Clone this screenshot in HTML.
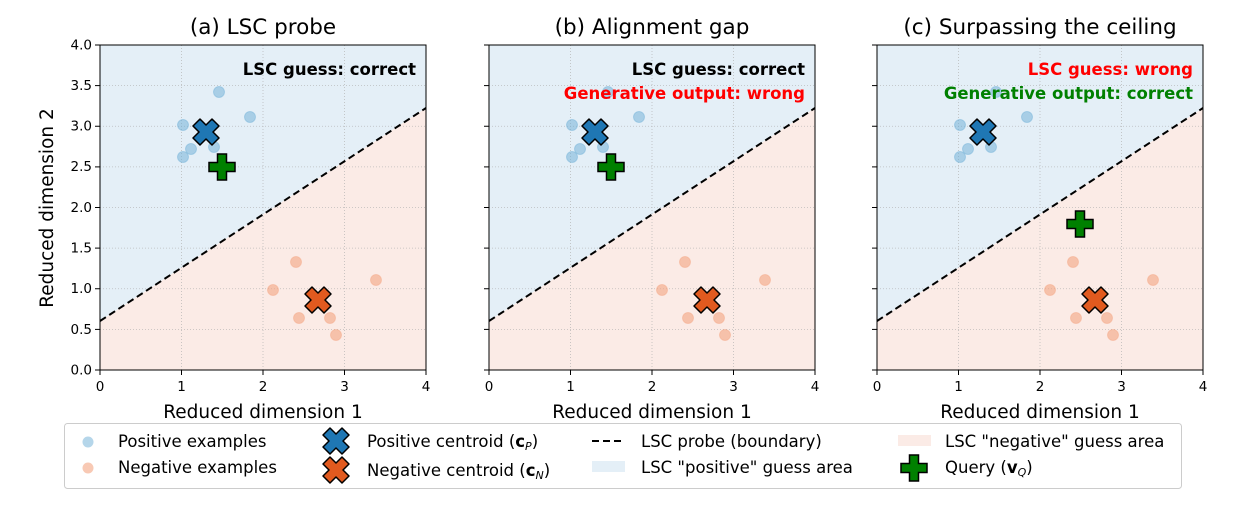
<!DOCTYPE html>
<html><head><meta charset="utf-8"><style>body{margin:0;background:#fff}svg{display:block;font-family:"DejaVu Sans","Liberation Sans",sans-serif}</style></head><body>
<svg width="1246" height="512" viewBox="0 0 1246 512" xmlns="http://www.w3.org/2000/svg">
<defs>
<path id="xm" d="M-6,-13 L0,-7 L6,-13 L13,-6 L7,0 L13,6 L6,13 L0,7 L-6,13 L-13,6 L-7,0 L-13,-6 Z" stroke="#000" stroke-width="1.5" stroke-linejoin="round"/>
<path id="pm" d="M-4.5,-13 H4.5 V-4.5 H13 V4.5 H4.5 V13 H-4.5 V4.5 H-13 V-4.5 H-4.5 Z" fill="#008000" stroke="#000" stroke-width="1.5"/>
<g id="panel">
<polygon points="0,45 326,45 326,108 0,321" fill="#e4eff7"/>
<polygon points="0,321 326,108 326,370 0,370" fill="#fbebe6"/>
<g stroke="#b0b0b0" stroke-width="0.8" stroke-dasharray="1,2" opacity="0.8">
<line x1="81.5" y1="45" x2="81.5" y2="370"/><line x1="163" y1="45" x2="163" y2="370"/><line x1="244.5" y1="45" x2="244.5" y2="370"/>
<line x1="0" y1="329.4" x2="326" y2="329.4"/><line x1="0" y1="288.75" x2="326" y2="288.75"/><line x1="0" y1="248.1" x2="326" y2="248.1"/><line x1="0" y1="207.5" x2="326" y2="207.5"/><line x1="0" y1="166.9" x2="326" y2="166.9"/><line x1="0" y1="126.25" x2="326" y2="126.25"/><line x1="0" y1="85.6" x2="326" y2="85.6"/>
</g>
<line x1="0" y1="321" x2="326" y2="108" stroke="#000" stroke-width="2" stroke-dasharray="7,4"/>
<g fill="#6baed6" fill-opacity="0.5" stroke="#6baed6" stroke-opacity="0.4">
<circle cx="83" cy="125" r="5.5"/><circle cx="119" cy="92" r="5.5"/><circle cx="150" cy="117" r="5.5"/><circle cx="91" cy="149" r="5.5"/><circle cx="83" cy="157" r="5.5"/><circle cx="114" cy="147" r="5.5"/>
</g>
<g fill="#f4a582" fill-opacity="0.6" stroke="#f4a582" stroke-opacity="0.4">
<circle cx="196" cy="262" r="5.5"/><circle cx="173" cy="290" r="5.5"/><circle cx="276" cy="280" r="5.5"/><circle cx="199" cy="318" r="5.5"/><circle cx="230" cy="318" r="5.5"/><circle cx="236" cy="335" r="5.5"/>
</g>
<use href="#xm" x="106" y="132" fill="#1f77b4"/>
<use href="#xm" x="218" y="300" fill="#e15a1f"/>
<rect x="0" y="45" width="326" height="325" fill="none" stroke="#000" stroke-width="1"/>
<g stroke="#000"><line x1="0" y1="370" x2="0" y2="375"/><line x1="81.5" y1="370" x2="81.5" y2="375"/><line x1="163" y1="370" x2="163" y2="375"/><line x1="244.5" y1="370" x2="244.5" y2="375"/><line x1="326" y1="370" x2="326" y2="375"/>
<line x1="0" y1="370" x2="-5" y2="370"/><line x1="0" y1="329.4" x2="-5" y2="329.4"/><line x1="0" y1="288.75" x2="-5" y2="288.75"/><line x1="0" y1="248.1" x2="-5" y2="248.1"/><line x1="0" y1="207.5" x2="-5" y2="207.5"/><line x1="0" y1="166.9" x2="-5" y2="166.9"/><line x1="0" y1="126.25" x2="-5" y2="126.25"/><line x1="0" y1="85.6" x2="-5" y2="85.6"/><line x1="0" y1="45" x2="-5" y2="45"/></g>
<g font-size="13.5" text-anchor="middle"><text x="0" y="391">0</text><text x="81.5" y="391">1</text><text x="163" y="391">2</text><text x="244.5" y="391">3</text><text x="326" y="391">4</text></g>
<text x="163" y="418" font-size="18.5" text-anchor="middle">Reduced dimension 1</text>
</g>
</defs>
<g transform="translate(100,0)"><use href="#panel"/><use href="#pm" x="122" y="167"/>
<g font-size="13.5" text-anchor="end"><text x="-8" y="374.5">0.0</text><text x="-8" y="334">0.5</text><text x="-8" y="293">1.0</text><text x="-8" y="252.5">1.5</text><text x="-8" y="212">2.0</text><text x="-8" y="171">2.5</text><text x="-8" y="130.5">3.0</text><text x="-8" y="90">3.5</text><text x="-8" y="49.5">4.0</text></g>
<text x="316" y="75" font-size="16.5" font-weight="bold" text-anchor="end">LSC guess: correct</text>
<text x="163" y="34" font-size="21.5" text-anchor="middle">(a) LSC probe</text></g>
<text transform="translate(53,208) rotate(-90)" font-size="18.5" text-anchor="middle">Reduced dimension 2</text>
<g transform="translate(489,0)"><use href="#panel"/><use href="#pm" x="122" y="167"/>
<text x="316" y="75" font-size="16.5" font-weight="bold" text-anchor="end">LSC guess: correct</text>
<text x="316" y="99" font-size="16.5" font-weight="bold" text-anchor="end" fill="#ff0000">Generative output: wrong</text>
<text x="163" y="34" font-size="21.5" text-anchor="middle">(b) Alignment gap</text></g>
<g transform="translate(877,0)"><use href="#panel"/><use href="#pm" x="203" y="224"/>
<text x="316" y="75" font-size="16.5" font-weight="bold" text-anchor="end" fill="#ff0000">LSC guess: wrong</text>
<text x="316" y="99" font-size="16.5" font-weight="bold" text-anchor="end" fill="#008000">Generative output: correct</text>
<text x="163" y="34" font-size="21.5" text-anchor="middle">(c) Surpassing the ceiling</text></g>
<rect x="64.5" y="423.5" width="1117" height="65" rx="3" fill="#fff" stroke="#ccc"/>
<g font-size="16.5">
<circle cx="88" cy="442" r="5.5" fill="#6baed6" fill-opacity="0.5"/><text x="118" y="447">Positive examples</text>
<circle cx="88" cy="468" r="5.5" fill="#f4a582" fill-opacity="0.6"/><text x="118" y="473">Negative examples</text>
<use href="#xm" x="336" y="441" fill="#1f77b4"/><text x="367" y="447">Positive centroid (<tspan font-weight="bold">c</tspan><tspan font-size="11" font-style="italic" dy="3">P</tspan><tspan dy="-3">)</tspan></text>
<use href="#xm" x="336" y="470" fill="#e15a1f"/><text x="367" y="476">Negative centroid (<tspan font-weight="bold">c</tspan><tspan font-size="11" font-style="italic" dy="3">N</tspan><tspan dy="-3">)</tspan></text>
<line x1="592" y1="441" x2="625" y2="441" stroke="#000" stroke-width="2" stroke-dasharray="7,4"/><text x="641" y="447">LSC probe (boundary)</text>
<rect x="592" y="461" width="33" height="11" fill="#e4eff7"/><text x="641" y="473">LSC "positive" guess area</text>
<rect x="898" y="435" width="33" height="11" fill="#fbebe6"/><text x="945" y="447">LSC "negative" guess area</text>
<use href="#pm" x="914" y="468"/><text x="945" y="473">Query (<tspan font-weight="bold">v</tspan><tspan font-size="11" font-style="italic" dy="3">Q</tspan><tspan dy="-3">)</tspan></text>
</g>
</svg>
</body></html>
